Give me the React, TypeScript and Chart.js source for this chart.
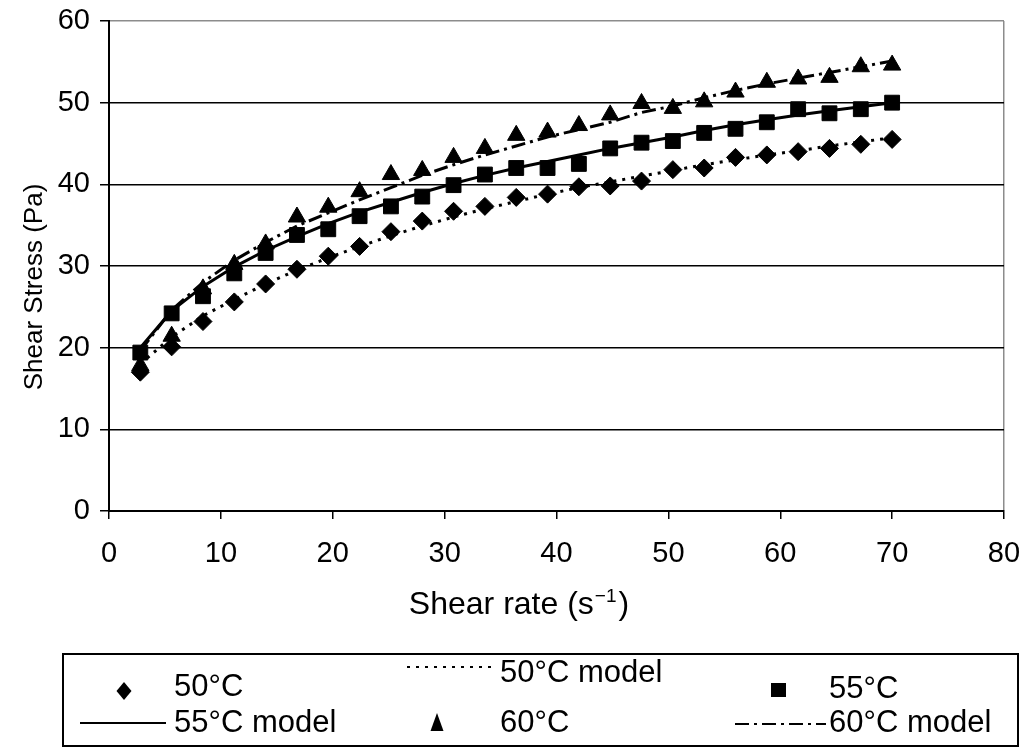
import React, { useEffect, useRef } from 'react';
import { Chart, registerables } from 'chart.js';

Chart.register(...registerables);

// ---- data ----
const shearRate = [2.8, 5.6, 8.4, 11.2, 14.0, 16.8, 19.6, 22.4, 25.2, 28.0, 30.8, 33.6, 36.4, 39.2, 42.0, 44.8, 47.6, 50.4, 53.2, 56.0, 58.8, 61.6, 64.4, 67.2, 70.0];
const stress50 = [17.0, 20.1, 23.2, 25.6, 27.8, 29.6, 31.2, 32.4, 34.2, 35.5, 36.7, 37.3, 38.4, 38.8, 39.7, 39.8, 40.4, 41.8, 42.0, 43.3, 43.6, 44.0, 44.4, 44.9, 45.5];
const model50 = [18.0, 21.3, 23.9, 25.9, 27.8, 29.5, 31.0, 32.4, 33.7, 34.9, 36.0, 37.0, 37.9, 38.8, 39.6, 40.3, 41.0, 41.7, 42.4, 43.0, 43.6, 44.1, 44.7, 45.2, 45.7];
const stress55 = [19.4, 24.2, 26.3, 29.1, 31.6, 33.8, 34.5, 36.1, 37.3, 38.5, 39.9, 41.2, 42.0, 42.0, 42.5, 44.4, 45.1, 45.3, 46.3, 46.8, 47.6, 49.2, 48.7, 49.2, 50.0];
const model55 = [20.0, 24.5, 27.5, 29.9, 31.9, 33.6, 35.2, 36.6, 37.8, 39.0, 40.1, 41.1, 42.0, 42.8, 43.6, 44.4, 45.1, 45.8, 46.6, 47.3, 47.9, 48.5, 49.0, 49.5, 50.0];
const stress60 = [17.8, 21.4, 27.2, 30.2, 32.7, 36.0, 37.2, 39.1, 41.2, 41.7, 43.3, 44.4, 46.0, 46.4, 47.2, 48.5, 49.9, 49.3, 50.1, 51.3, 52.5, 52.9, 53.1, 54.4, 54.6];
const model60 = [19.6, 24.6, 28.0, 30.7, 32.9, 34.9, 36.5, 38.1, 39.6, 41.1, 42.4, 43.6, 44.7, 45.8, 46.7, 47.6, 48.8, 49.6, 50.6, 51.5, 52.3, 53.0, 53.7, 54.4, 55.1];

const seriesLabels = ['50°C', '50°C model', '55°C', '55°C model', '60°C', '60°C model'];
const xTitle = 'Shear rate (s';
const xTitleSup = '−1';
const yTitle = 'Shear Stress (Pa)';
const xMin = 0, xMax = 80, xStep = 10;
const yMin = 0, yMax = 60, yStep = 10;

const FONT = '"Liberation Sans", Arial, Helvetica, sans-serif';

const pts = (ys: number[]) => ys.map((y, i) => ({ x: shearRate[i], y }));

const DASH50 = [3, 6];
const DASH60 = [14, 5, 3, 5];

const overlayPlugin = {
  id: 'overlay',
  beforeDraw(chart: any) {
    const ctx = chart.ctx;
    ctx.save();
    ctx.fillStyle = '#fff';
    ctx.fillRect(0, 0, chart.width, chart.height);
    ctx.restore();
  },
  afterDraw(chart: any) {
    const ctx: CanvasRenderingContext2D = chart.ctx;
    ctx.save();
    ctx.fillStyle = '#000';
    ctx.strokeStyle = '#000';

    // x title with superscript
    const mainFont = `32px ${FONT}`;
    const supFont = `19px ${FONT}`;
    ctx.font = mainFont;
    const w1 = ctx.measureText(xTitle).width;
    const w3 = ctx.measureText(')').width;
    ctx.font = supFont;
    const w2 = ctx.measureText(xTitleSup).width;
    const total = w1 + w2 + w3 + 3;
    const cx = 519;
    const x0 = cx - total / 2;
    const by = 614;
    ctx.textBaseline = 'alphabetic';
    ctx.textAlign = 'left';
    ctx.font = mainFont;
    ctx.fillText(xTitle, x0, by);
    ctx.font = supFont;
    ctx.fillText(xTitleSup, x0 + w1 + 1, by - 12);
    ctx.font = mainFont;
    ctx.fillText(')', x0 + w1 + w2 + 3, by);

    // y title
    ctx.save();
    ctx.translate(35, 287);
    ctx.rotate(-Math.PI / 2);
    ctx.textAlign = 'center';
    ctx.textBaseline = 'middle';
    ctx.font = `26px ${FONT}`;
    ctx.fillText(yTitle, 0, 0);
    ctx.restore();

    // legend box
    ctx.lineWidth = 2;
    ctx.setLineDash([]);
    ctx.strokeRect(63, 654, 955, 92);

    ctx.font = `31px ${FONT}`;
    ctx.textAlign = 'left';
    ctx.textBaseline = 'middle';

    // 50°C diamond
    ctx.beginPath();
    ctx.moveTo(124, 682);
    ctx.lineTo(131.5, 691);
    ctx.lineTo(124, 700);
    ctx.lineTo(116.5, 691);
    ctx.closePath();
    ctx.fill();
    ctx.fillText(seriesLabels[0], 174, 687);

    // 50°C model dotted
    ctx.lineWidth = 2;
    ctx.setLineDash(DASH50);
    ctx.beginPath();
    ctx.moveTo(407, 667);
    ctx.lineTo(492, 667);
    ctx.stroke();
    ctx.setLineDash([]);
    ctx.fillText(seriesLabels[1], 500, 673);

    // 55°C square
    ctx.fillRect(771, 683, 15, 14);
    ctx.fillText(seriesLabels[2], 829, 689);

    // 55°C model solid
    ctx.lineWidth = 2;
    ctx.beginPath();
    ctx.moveTo(80, 723);
    ctx.lineTo(166, 723);
    ctx.stroke();
    ctx.fillText(seriesLabels[3], 174, 723);

    // 60°C triangle
    ctx.beginPath();
    ctx.moveTo(437, 713);
    ctx.lineTo(443.5, 731);
    ctx.lineTo(430.5, 731);
    ctx.closePath();
    ctx.fill();
    ctx.fillText(seriesLabels[4], 500, 723);

    // 60°C model dash-dot
    ctx.lineWidth = 2;
    ctx.setLineDash(DASH60);
    ctx.beginPath();
    ctx.moveTo(735, 724);
    ctx.lineTo(826, 724);
    ctx.stroke();
    ctx.setLineDash([]);
    ctx.fillText(seriesLabels[5], 829, 723);

    ctx.restore();
  },
};

export default function App() {
  const ref = useRef<HTMLCanvasElement>(null);

  useEffect(() => {
    document.body.style.margin = '0';
    if (!ref.current) return;
    const tickFont = { family: FONT, size: 29 };
    const chart = new Chart(ref.current, {
      type: 'line',
      data: {
        datasets: [
          {
            label: seriesLabels[0], data: pts(stress50), showLine: false,
            pointStyle: 'rectRot', pointRadius: 9, pointBackgroundColor: '#000', pointBorderColor: '#000', pointBorderWidth: 1, order: 6,
          },
          {
            label: seriesLabels[1], data: pts(model50), borderColor: '#000', borderWidth: 3, borderDash: DASH50,
            pointRadius: 0, tension: 0, fill: false, order: 5,
          },
          {
            label: seriesLabels[2], data: pts(stress55), showLine: false,
            pointStyle: 'rect', pointRadius: 10.5, pointBackgroundColor: '#000', pointBorderColor: '#000', pointBorderWidth: 1, order: 4,
          },
          {
            label: seriesLabels[3], data: pts(model55), borderColor: '#000', borderWidth: 3,
            pointRadius: 0, tension: 0, fill: false, order: 3,
          },
          {
            label: seriesLabels[4], data: pts(stress60), showLine: false,
            pointStyle: 'triangle', pointRadius: 10, pointBackgroundColor: '#000', pointBorderColor: '#000', pointBorderWidth: 1, order: 2,
          },
          {
            label: seriesLabels[5], data: pts(model60), borderColor: '#000', borderWidth: 3, borderDash: DASH60,
            pointRadius: 0, tension: 0, fill: false, order: 1,
          },
        ],
      },
      options: {
        responsive: false,
        animation: false,
        devicePixelRatio: 1,
        layout: { padding: { left: 0, top: 21, right: 26, bottom: 0 } },
        plugins: { legend: { display: false }, tooltip: { enabled: false }, title: { display: false } },
        scales: {
          x: {
            type: 'linear', min: xMin, max: xMax,
            ticks: { stepSize: xStep, padding: 18, font: tickFont, color: '#000', maxRotation: 0 },
            grid: {
              color: (c: any) => (c.tick && c.tick.value === xMax ? '#8c8c8c' : 'rgba(0,0,0,0)'),
              tickColor: '#000', tickLength: 8, lineWidth: 1.5,
            },
            border: { color: '#000', width: 2 },
            afterFit: (s: any) => { s.height = 241; s.paddingLeft = 0; s.paddingRight = 0; },
          },
          y: {
            type: 'linear', min: yMin, max: yMax,
            ticks: { stepSize: yStep, padding: 10, font: tickFont, color: '#000' },
            grid: {
              color: (c: any) => (c.tick && c.tick.value === yMax ? '#8c8c8c' : '#000'),
              tickColor: '#000', tickLength: 9, lineWidth: 1.5,
            },
            border: { color: '#000', width: 2 },
            afterFit: (s: any) => { s.width = 109; s.paddingTop = 0; s.paddingBottom = 0; },
          },
        },
      },
      plugins: [overlayPlugin],
    });
    return () => chart.destroy();
  }, []);

  return (
    <div style={{ position: 'absolute', left: 0, top: 0, width: 1030, height: 752 }}>
      <canvas ref={ref} width={1030} height={752} style={{ width: 1030, height: 752 }} />
    </div>
  );
}
